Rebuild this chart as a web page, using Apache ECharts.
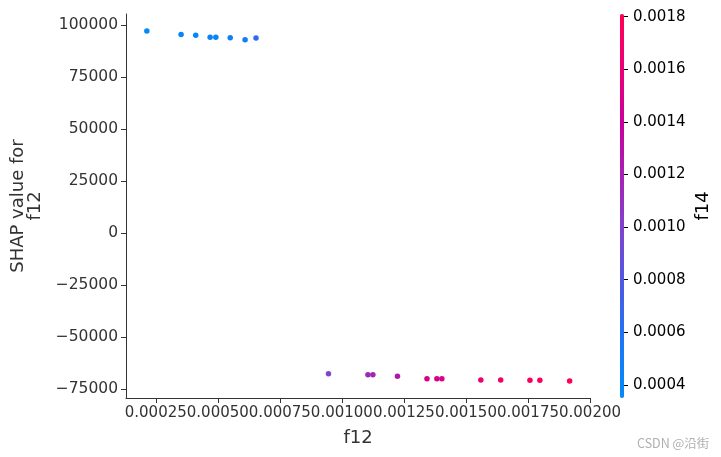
<!DOCTYPE html>
<html>
<head>
<meta charset="utf-8">
<script src="https://cdn.jsdelivr.net/npm/echarts@6/dist/echarts.min.js"></script>
<style>html,body{margin:0;padding:0;background:#fff}#c{width:721px;height:457px}</style>
</head>
<body>
<div id="c"></div>
<script>
// feature value f12 (x)
var f12Values = [0.000214, 0.000352, 0.000411, 0.000469, 0.000492, 0.000550, 0.000610, 0.000654,
                 0.000946, 0.001105, 0.001125, 0.001224, 0.001343, 0.001383, 0.001403, 0.001560, 0.001640, 0.001758, 0.001798, 0.001918];
// SHAP value for f12 (y)
var shapValues = [97100, 95500, 95100, 94100, 94100, 93900, 92900, 93800,
                  -67400, -67900, -67900, -68650, -69800, -69800, -69800, -70400, -70400, -70550, -70550, -70900];
// interaction feature f14 (colour)
var f14Values = [0.00036, 0.00040, 0.00041, 0.00044, 0.00044, 0.00046, 0.00050, 0.00064,
                 0.00098, 0.00116, 0.00118, 0.00126, 0.00148, 0.00150, 0.00151, 0.00163, 0.00168, 0.00176, 0.00177, 0.00181];

var xTicks = [0.00025, 0.0005, 0.00075, 0.001, 0.00125, 0.0015, 0.00175, 0.002];
var xTickLabels = ['0.00025', '0.00050', '0.00075', '0.00100', '0.00125', '0.00150', '0.00175', '0.00200'];
var yTicks = [-75000, -50000, -25000, 0, 25000, 50000, 75000, 100000];
var yTickLabels = ['\u221275000', '\u221250000', '\u221225000', '0', '25000', '50000', '75000', '100000'];
var cTicks = [0.0004, 0.0006, 0.0008, 0.0010, 0.0012, 0.0014, 0.0016, 0.0018];
var cTickLabels = ['0.0004', '0.0006', '0.0008', '0.0010', '0.0012', '0.0014', '0.0016', '0.0018'];

var colorStops = ['#008bfb', '#1a78f5', '#4a5ae5', '#7c46d0', '#a424b4', '#c8009a', '#eb0078', '#ff0052'];

var points = f12Values.map(function (x, i) { return [x, shapValues[i], f14Values[i]]; });

function lookup(ticks, labels) {
  return function (v) {
    for (var i = 0; i < ticks.length; i++) {
      if (Math.abs(ticks[i] - v) <= Math.abs(ticks[i]) * 1e-6 + 1e-12) return labels[i];
    }
    return '';
  };
}

var font = 'DejaVu Sans';
var chart = echarts.init(document.getElementById('c'), null, {renderer: 'canvas'});
chart.setOption({
  animation: false,
  backgroundColor: '#ffffff',
  textStyle: {fontFamily: font},
  grid: [
    {left: 126, top: 14, width: 464, height: 384, containLabel: false, outerBoundsMode: 'none'},
    {left: 620, top: 14, width: 4, height: 384, containLabel: false, outerBoundsMode: 'none'}
  ],
  xAxis: [
    {
      type: 'value', gridIndex: 0, min: 0.00013, max: 0.002,
      name: 'f12', nameLocation: 'middle', nameGap: 31,
      nameTextStyle: {fontFamily: font, fontSize: 18, color: '#333333'},
      axisLine: {show: true, onZero: false, lineStyle: {color: '#333333', width: 1}},
      axisTick: {show: true, inside: false, length: 5, customValues: xTicks, lineStyle: {color: '#333333'}},
      axisLabel: {show: true, margin: 8, fontFamily: font, fontSize: 15, color: '#333333', customValues: xTicks,
                  hideOverlap: false, showMinLabel: true, showMaxLabel: true, formatter: lookup(xTicks, xTickLabels)},
      splitLine: {show: false}
    },
    {type: 'value', gridIndex: 1, min: 0, max: 1, show: false}
  ],
  yAxis: [
    {
      type: 'value', gridIndex: 0, min: -79100, max: 105300,
      name: 'SHAP value for\nf12', nameLocation: 'middle', nameGap: 68, nameRotate: 90,
      nameTextStyle: {fontFamily: font, fontSize: 18, color: '#333333', lineHeight: 17, align: 'center'},
      axisLine: {show: true, onZero: false, lineStyle: {color: '#333333', width: 1}},
      axisTick: {show: true, inside: false, length: 5, customValues: yTicks, lineStyle: {color: '#333333'}},
      axisLabel: {show: true, margin: 8, fontFamily: font, fontSize: 15.5, color: '#333333', customValues: yTicks,
                  hideOverlap: false, showMinLabel: true, showMaxLabel: true, formatter: lookup(yTicks, yTickLabels)},
      splitLine: {show: false}
    },
    {
      type: 'value', gridIndex: 1, position: 'right', min: 0.00035, max: 0.00181,
      name: 'f14', nameLocation: 'middle', nameGap: 70, nameRotate: 90,
      nameTextStyle: {fontFamily: font, fontSize: 18, color: '#000000'},
      axisLine: {show: false, onZero: false},
      axisTick: {show: true, inside: false, length: 4, customValues: cTicks, lineStyle: {color: '#000000'}},
      axisLabel: {show: true, margin: 9, fontFamily: font, fontSize: 15, color: '#000000', customValues: cTicks,
                  hideOverlap: false, showMinLabel: true, showMaxLabel: true, formatter: lookup(cTicks, cTickLabels)},
      splitLine: {show: false}
    }
  ],
  visualMap: {
    type: 'continuous', min: 0.00035, max: 0.00181, dimension: 2, seriesIndex: 0,
    left: 620, top: 14, itemWidth: 4, itemHeight: 384, padding: 0,
    calculable: false, realtime: false, text: null, showLabel: false,
    inRange: {color: colorStops},
    textStyle: {color: 'transparent'}
  },
  series: [{
    type: 'scatter', xAxisIndex: 0, yAxisIndex: 0,
    symbol: 'circle', symbolSize: 5.5,
    data: points,
    itemStyle: {opacity: 1}
  }],
  graphic: [{
    type: 'text', left: 637, top: 437,
    style: {text: 'CSDN @沿街', fontFamily: 'Noto Sans CJK SC', fontSize: 12.5, fill: '#b0b0b0'}
  }]
});
</script>
</body>
</html>
